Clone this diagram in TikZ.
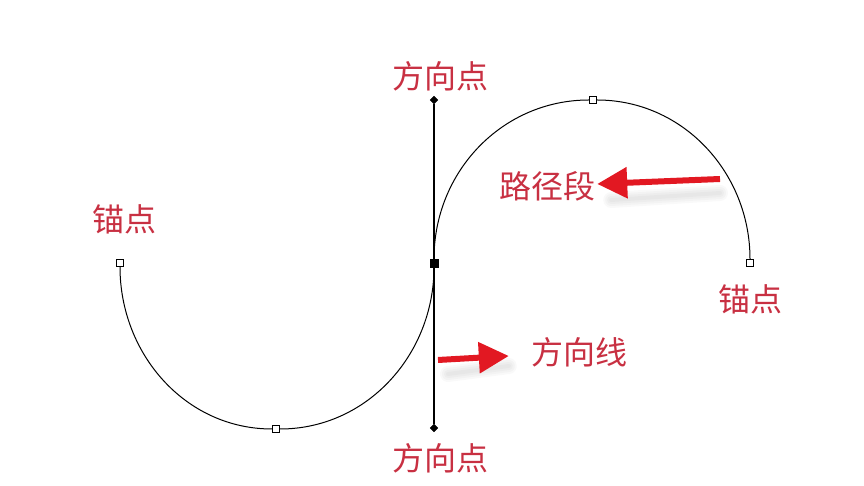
\documentclass[tikz,border=0pt]{standalone}
\usepackage{fontspec}
\newfontfamily\cjk{Noto Sans CJK SC}
\usetikzlibrary{positioning,shapes.geometric,arrows.meta}
\definecolor{labelred}{RGB}{200,48,66}
\definecolor{arrowred}{RGB}{226,24,34}

\begin{document}
\begin{tikzpicture}[x=1pt,y=1pt,
  anchorpt/.style={draw,fill=white,rectangle,minimum size=7pt,inner sep=0pt,line width=1pt},
  centerpt/.style={draw,fill=black,rectangle,minimum size=8pt,inner sep=0pt},
  handle/.style={draw,fill=black,diamond,minimum size=8pt,inner sep=0pt},
  lbl/.style={text=labelred,font=\cjk\fontsize{32}{36}\selectfont,inner sep=2pt},
  curve/.style={line width=1pt},
  redarrow/.style={draw=arrowred,line width=6pt,-{Triangle[length=30pt,width=30pt]}},
  arrowshadow/.style={draw=black!50,opacity=0.05,line cap=round}
  ]

  \useasboundingbox (0,0) rectangle (864,486);

  % points on the path
  \node[anchorpt] (la) at (120,223) {};
  \node[anchorpt] (lb) at (276,57) {};
  \node[centerpt] (ca) at (434,223) {};
  \node[anchorpt] (rt) at (593,386) {};
  \node[anchorpt] (ra) at (750,223) {};
  \node[handle] (dt) at (434,386) {};
  \node[handle] (db) at (434,58) {};

  % direction line and segments
  \draw[line width=1.3pt] (dt) -- (db);
  \draw[curve] (la) to[out=-90,in=180] (lb) to[out=0,in=-90] (ca)
    to[out=90,in=180] (rt) to[out=0,in=90] (ra);

  % labels
  \node[lbl,above=2pt of dt,xshift=6pt] (dtlbl) {方向点};
  \node[lbl,below=9pt of db,xshift=6pt] (dblbl) {方向点};
  \node[lbl,above=23pt of la,xshift=4pt] (lalbl) {锚点};
  \node[lbl,below=15pt of ra] (ralbl) {锚点};
  \node[lbl] (seg) at (547,300) {路径段};
  \node[lbl] (dir) at (579,134) {方向线};

  % red pointers, soft shadow first
  \coordinate (segtail) at (720,307);
  \coordinate (dirtail) at (438,126);
  \foreach \w in {4,8,12,16}{
    \draw[arrowshadow,line width=\w pt] ([yshift=-14pt]segtail) -- ([xshift=14pt,yshift=-14pt]seg.east);
    \draw[arrowshadow,line width=\w pt] ([xshift=10pt,yshift=-14pt]dirtail) -- ([xshift=-20pt,yshift=-14pt]dir.west);
  }
  \draw[redarrow] (segtail) -- (seg);
  \draw[redarrow,shorten >=20pt] (dirtail) -- (dir);

\end{tikzpicture}
\end{document}
